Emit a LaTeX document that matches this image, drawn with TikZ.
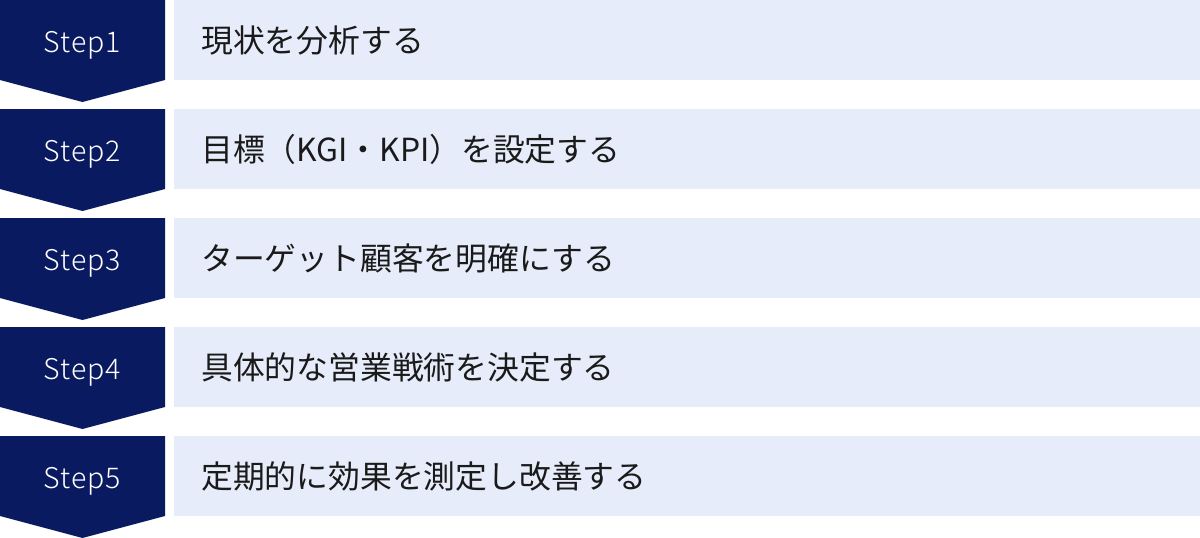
\documentclass[tikz,border=0pt]{standalone}
\usepackage{fontspec}
\setmainfont{Noto Sans CJK JP}
\newfontfamily\stepfont[LetterSpace=3.5]{Noto Sans CJK JP Light}
\newfontfamily\jpfont{Noto Sans CJK JP}
\definecolor{navy}{HTML}{0A1A60}
\definecolor{pale}{HTML}{E6ECF9}
\definecolor{ink}{HTML}{1A1A1A}
\begin{document}
\begin{tikzpicture}[x=1pt,y=-1pt,
  bar/.style={fill=pale,draw=none,anchor=north west,minimum width=1026pt,minimum height=80pt,inner sep=0pt},
  steplabel/.style={text=white,anchor=base,inner sep=0pt,font=\stepfont\fontsize{28.5}{28.5}\selectfont},
  desc/.style={text=ink,anchor=base west,inner sep=0pt,font=\jpfont\fontsize{31.8}{31.8}\selectfont}]
\useasboundingbox (0,0) rectangle (1200,538);
\foreach \i/\txt [count=\n from 0] in {1/現状を分析する,2/目標（KGI・KPI）を設定する,3/ターゲット顧客を明確にする,4/具体的な営業戦術を決定する,5/定期的に効果を測定し改善する}{
  \pgfmathsetmacro{\t}{109*\n}
  \fill[navy] (0,\t) -- (165,\t) -- (165,\t+80) -- (82.5,\t+102) -- (0,\t+80) -- cycle;
  \node[bar] (bar\i) at (174,\t) {};
  \node[steplabel] (step\i) at (82.5,\t+52) {Step\i};
  \node[desc] (desc\i) at (201,\t+52) {\txt};
}
\end{tikzpicture}
\end{document}
